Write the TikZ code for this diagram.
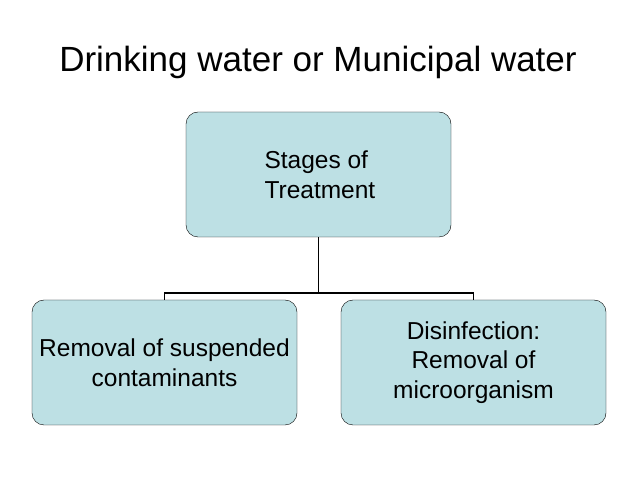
\documentclass[tikz,border=0pt]{standalone}
\usepackage{fontspec}
\setmainfont{Liberation Sans}
\begin{document}
\begin{tikzpicture}[x=1pt,y=-1pt,
  box/.style={draw=black,fill=boxblue,rounded corners=12pt,minimum width=265pt,minimum height=125pt,inner sep=0pt,font=\fontsize{24.5}{29.5}\selectfont},
  conn/.style={draw=black,line width=1.5pt}]
\definecolor{boxblue}{HTML}{BDE0E4}
\useasboundingbox (0,0) rectangle (638,478);
\node[font=\fontsize{35}{40}\selectfont] (title) at (318,62) {Drinking water or Municipal water};
\node[box] (top) at (318.5,174.5) {};
\node[font=\fontsize{24.5}{29.5}\selectfont,align=left,anchor=west] (toptext) at (261,175) {Stages of\\Treatment};
\node[box,align=center] (left) at (164.5,362.5) {Removal of suspended\\contaminants};
\node[box,align=center] (right) at (473.5,362.5) {Disinfection:\\Removal of\\microorganism};
\coordinate (bus) at (318.5,293);
\draw[conn] (top.south) -- (bus);
\draw[conn] (left.north) |- (bus) -| (right.north);
\end{tikzpicture}
\end{document}
